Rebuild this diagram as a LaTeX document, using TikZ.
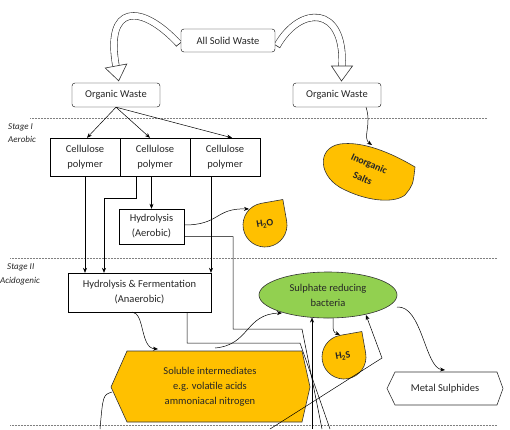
\documentclass[tikz,border=0pt]{standalone}
\usepackage{fontspec}
\setmainfont{Carlito}
\usetikzlibrary{arrows.meta,shapes.geometric}
\definecolor{orng}{HTML}{FFC000}
\definecolor{grn}{HTML}{92D050}
\definecolor{txt}{HTML}{262626}
\begin{document}
\begin{tikzpicture}[x=1pt,y=1pt,
  font=\fontsize{10.5}{15}\selectfont, text=txt,
  rbox/.style={draw, rounded corners=3pt, inner sep=0pt, align=center, fill=white},
  sbox/.style={draw, inner sep=0pt, align=center, fill=white},
  arr/.style={-{Stealth[length=5pt,width=4pt]}, line width=0.5pt},
  conn/.style={line width=0.5pt},
  sep/.style={draw=gray, densely dotted, line width=0.5pt},
  stage/.style={anchor=west, font=\fontsize{9}{10}\selectfont\itshape, inner sep=0pt},
  blob/.style={draw=black!80, fill=orng, line width=0.6pt},
  hollow/.style={draw=black!80, line width=0.6pt, double=white, double distance=6pt},
  headst/.style={draw=black!80, fill=white, line width=0.6pt, line join=miter},
  boldlbl/.style={font=\fontsize{10}{16}\selectfont\bfseries, align=center, inner sep=0pt}]
\useasboundingbox (0,0) rectangle (510,-429);

% separators
\draw[sep] (30,-118) -- (487,-118);
\draw[sep] (10,-258) -- (497,-258);
\draw[sep] (10,-425) -- (497,-425);
\node[stage] (s1a) at (8,-127) {Stage I};
\node[stage] (s1b) at (8,-139) {Aerobic};
\node[stage] (s2a) at (7,-267) {Stage II};
\node[stage] (s2b) at (0,-281) {Acidogenic};

% hollow arrows
\draw[hollow] (179,-44) .. controls (140,-2) and (105,-5) .. (116,-66);
\draw[headst] (126.8,-64) -- (118.7,-80.8) -- (105.2,-68) -- cycle;
\draw[black!80, line width=0.6pt] (182,-41.7) -- (176,-46.3);
\draw[hollow] (277,-46) .. controls (300,-5) and (345,-5) .. (342,-66);
\draw[headst] (331.5,-66) -- (341.5,-81) -- (352.5,-66) -- cycle;
\draw[black!80, line width=0.6pt] (274,-44.2) -- (280,-47.8);

% boxes
\node[rbox, minimum width=94pt, minimum height=23pt] (asw) at (228,-40.5) {All Solid Waste};
\node[rbox, minimum width=88pt, minimum height=24pt] (owl) at (116,-95) {Organic Waste};
\node[rbox, minimum width=88pt, minimum height=24pt] (owr) at (337,-95) {Organic Waste};
\node[sbox, minimum width=70pt, minimum height=38pt] (cp1) at (85,-157) {Cellulose\\polymer};
\node[sbox, minimum width=70pt, minimum height=38pt] (cp2) at (155,-157) {Cellulose\\polymer};
\node[sbox, minimum width=70pt, minimum height=38pt] (cp3) at (225,-157) {Cellulose\\polymer};
\node[sbox, minimum width=65pt, minimum height=35pt] (hyd) at (151.5,-226.5) {Hydrolysis\\(Aerobic)};
\node[sbox, minimum width=143pt, minimum height=39pt] (hf) at (139.5,-292.5) {Hydrolysis \& Fermentation\\(Anaerobic)};

% organic waste to cellulose
\draw[arr] (owl.south) -- ([xshift=2pt]cp1.north);
\draw[arr] (owl.south) -- ([xshift=-5pt]cp2.north);
\draw[arr] (owl.south) -- ([xshift=7pt]cp3.north);

% verticals
\draw[arr] (cp1.south) -- (cp1.south |- hf.north);
\draw[arr] ([xshift=-19pt]cp2.south) -- ++(0,-22) -| ([xshift=-35.5pt]hf.north);
\draw[arr] (cp2.south -| hyd.north) -- (hyd.north);
\draw[arr] ([xshift=-14pt]cp3.south) -- ([xshift=-14pt]cp3.south |- hf.north);

% H2O drop
\draw[blob, rotate around={10:(265,-225)}] (265,-203) arc[start angle=90, end angle=360, radius=22] -- (287,-203) -- cycle;
\node[boldlbl, rotate=10] (h2o) at (265,-224) {H\textsubscript{2}O};
\coordinate (h2oin) at (249,-209);
\draw[arr] ([yshift=1.5pt]hyd.east) .. controls (220,-225) and (215,-208) .. (h2oin);

% Inorganic salts
\draw[blob] (415,-167) .. controls (413,-185) .. (405,-195) .. controls (395,-203) and (370,-202) .. (345,-190) .. controls (318,-178) and (316,-148) .. (340,-144) .. controls (362,-141) and (390,-152) .. (415,-167) -- cycle;
\node[boldlbl, rotate=-24] (inorg) at (366,-171) {Inorganic\\Salts};
\coordinate (inin) at (372,-145);
\draw[arr] ([xshift=29pt]owr.south) .. controls (372,-125) and (362,-138) .. (inin);

% ellipse
\node[draw=black!80, fill=grn, ellipse, minimum width=138pt, minimum height=46pt, inner sep=0pt, align=center, line width=0.6pt] (srb) at (328,-295) {Sulphate reducing\\bacteria};

% Soluble hexagon
\draw[blob] (127,-351) -- (302,-351) -- (310,-387) -- (302,-422) -- (127,-422) -- (111,-387) -- cycle;
\node[align=center, inner sep=0pt] (sol) at (210,-387) {Soluble intermediates\\e.g. volatile acids\\ammoniacal nitrogen};

% Metal sulphides hexagon
\draw[draw=black!80, line width=0.6pt, fill=white] (395,-372) -- (497,-372) -- (503,-388.5) -- (497,-405) -- (395,-405) -- (387,-388.5) -- cycle;
\node[inner sep=0pt] (ms) at (445,-388.5) {Metal Sulphides};

% H2S drop
\draw[blob, rotate around={10:(344,-357)}] (344,-335) arc[start angle=90, end angle=360, radius=22] -- (366,-335) -- cycle;
\node[boldlbl, rotate=10] (h2s) at (343,-356) {H\textsubscript{2}S};

% curved arrows
\coordinate (solin) at (158,-349);
\coordinate (solout) at (215,-348);
\coordinate (srbin) at (282,-313);
\coordinate (h2sin) at (340,-335);
\coordinate (msin) at (445,-370);
\draw[arr] (132,-312) .. controls (145,-313) and (140,-348) .. (solin);
\draw[arr] (solout) .. controls (250,-345) and (245,-314) .. (srbin);
\draw[arr] (333,-318) .. controls (333,-332) .. (h2sin);
\draw[arr] (397,-307) .. controls (422,-305) and (425,-368) .. (msin);

% lines to bottom
\coordinate (bA) at (322,-429);
\coordinate (bB) at (330,-429);
\coordinate (bV) at (312,-429);
\coordinate (bC) at (270,-429);
\coordinate (bL) at (100,-429);
\draw[conn] ([yshift=-10pt]hyd.east) -- (233,-236.5) -- (233,-329) -- (302,-329) -- (bA);
\draw[conn] ([xshift=47.5pt]hf.south) -- (187,-343) -- (300,-343) -- (bB);
\draw[arr] (bV) -- (312,-317.5);
\draw[arr] (bC) -- (382,-358) -- (366,-315);
\draw[conn] (bL) .. controls (103,-395) .. (112,-392);
\end{tikzpicture}
\end{document}
